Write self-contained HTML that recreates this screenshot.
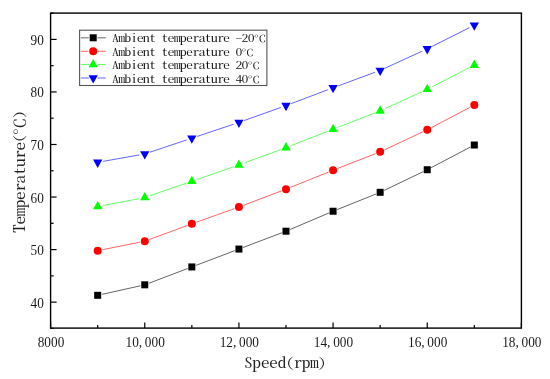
<!DOCTYPE html>
<html><head><meta charset="utf-8"><style>
html,body{margin:0;padding:0;background:#fff;width:550px;height:379px;overflow:hidden}
svg{display:block}
.tk{font-family:"Liberation Serif","Noto Serif CJK SC",serif;font-size:14px;fill:#1a1a1a;word-spacing:-0.6px}
.cj{font-family:"Noto Serif CJK SC",serif;font-feature-settings:"hwid";fill:#222}
.lg{font-family:"Noto Serif CJK SC",serif;font-feature-settings:"hwid";font-size:13.8px;letter-spacing:-0.725px;fill:#111}
</style></head><body>
<svg width="550" height="379" viewBox="0 0 550 379">
<rect x="0" y="0" width="550" height="379" fill="#fff"/>
<g>
<line x1="101.97" y1="294.36" x2="140.47" y2="285.77" stroke="#000000" stroke-width="0.85" stroke-opacity="0.72"/>
<line x1="148.87" y1="283.25" x2="187.73" y2="268.50" stroke="#000000" stroke-width="0.85" stroke-opacity="0.72"/>
<line x1="195.95" y1="265.38" x2="234.81" y2="250.64" stroke="#000000" stroke-width="0.85" stroke-opacity="0.72"/>
<line x1="243.03" y1="247.51" x2="281.89" y2="232.77" stroke="#000000" stroke-width="0.85" stroke-opacity="0.72"/>
<line x1="290.05" y1="229.49" x2="329.03" y2="212.96" stroke="#000000" stroke-width="0.85" stroke-opacity="0.72"/>
<line x1="337.16" y1="209.60" x2="376.08" y2="193.96" stroke="#000000" stroke-width="0.85" stroke-opacity="0.72"/>
<line x1="384.13" y1="190.42" x2="423.27" y2="171.63" stroke="#000000" stroke-width="0.85" stroke-opacity="0.72"/>
<line x1="431.14" y1="167.68" x2="470.42" y2="147.07" stroke="#000000" stroke-width="0.85" stroke-opacity="0.72"/>
<rect x="94.18" y="291.82" width="7.00" height="7.00" fill="#000000"/>
<rect x="141.26" y="281.31" width="7.00" height="7.00" fill="#000000"/>
<rect x="188.34" y="263.44" width="7.00" height="7.00" fill="#000000"/>
<rect x="235.42" y="245.57" width="7.00" height="7.00" fill="#000000"/>
<rect x="282.50" y="227.71" width="7.00" height="7.00" fill="#000000"/>
<rect x="329.58" y="207.74" width="7.00" height="7.00" fill="#000000"/>
<rect x="376.66" y="188.82" width="7.00" height="7.00" fill="#000000"/>
<rect x="423.74" y="166.22" width="7.00" height="7.00" fill="#000000"/>
<rect x="470.82" y="141.53" width="7.00" height="7.00" fill="#000000"/>
<line x1="102.48" y1="249.69" x2="139.96" y2="242.16" stroke="#ff0000" stroke-width="0.85" stroke-opacity="0.72"/>
<line x1="149.36" y1="239.50" x2="187.24" y2="225.54" stroke="#ff0000" stroke-width="0.85" stroke-opacity="0.72"/>
<line x1="196.45" y1="222.20" x2="234.31" y2="208.68" stroke="#ff0000" stroke-width="0.85" stroke-opacity="0.72"/>
<line x1="243.50" y1="205.30" x2="281.42" y2="190.91" stroke="#ff0000" stroke-width="0.85" stroke-opacity="0.72"/>
<line x1="290.55" y1="187.34" x2="328.53" y2="172.08" stroke="#ff0000" stroke-width="0.85" stroke-opacity="0.72"/>
<line x1="337.64" y1="168.47" x2="375.60" y2="153.64" stroke="#ff0000" stroke-width="0.85" stroke-opacity="0.72"/>
<line x1="384.60" y1="149.78" x2="422.80" y2="131.87" stroke="#ff0000" stroke-width="0.85" stroke-opacity="0.72"/>
<line x1="431.58" y1="127.51" x2="469.98" y2="107.36" stroke="#ff0000" stroke-width="0.85" stroke-opacity="0.72"/>
<circle cx="97.68" cy="250.65" r="4.00" fill="#ff0000"/>
<circle cx="144.76" cy="241.19" r="4.00" fill="#ff0000"/>
<circle cx="191.84" cy="223.85" r="4.00" fill="#ff0000"/>
<circle cx="238.92" cy="207.03" r="4.00" fill="#ff0000"/>
<circle cx="286.00" cy="189.17" r="4.00" fill="#ff0000"/>
<circle cx="333.08" cy="170.25" r="4.00" fill="#ff0000"/>
<circle cx="380.16" cy="151.86" r="4.00" fill="#ff0000"/>
<circle cx="427.24" cy="129.79" r="4.00" fill="#ff0000"/>
<circle cx="474.32" cy="105.09" r="4.00" fill="#ff0000"/>
<line x1="103.13" y1="205.47" x2="139.31" y2="198.61" stroke="#00ff00" stroke-width="0.85" stroke-opacity="0.72"/>
<line x1="150.00" y1="195.76" x2="186.60" y2="183.10" stroke="#00ff00" stroke-width="0.85" stroke-opacity="0.72"/>
<line x1="197.08" y1="179.47" x2="233.68" y2="166.81" stroke="#00ff00" stroke-width="0.85" stroke-opacity="0.72"/>
<line x1="244.13" y1="163.08" x2="280.79" y2="149.57" stroke="#00ff00" stroke-width="0.85" stroke-opacity="0.72"/>
<line x1="291.17" y1="145.63" x2="327.91" y2="131.28" stroke="#00ff00" stroke-width="0.85" stroke-opacity="0.72"/>
<line x1="338.25" y1="127.24" x2="374.99" y2="112.89" stroke="#00ff00" stroke-width="0.85" stroke-opacity="0.72"/>
<line x1="385.21" y1="108.56" x2="422.19" y2="91.63" stroke="#00ff00" stroke-width="0.85" stroke-opacity="0.72"/>
<line x1="432.18" y1="86.79" x2="469.38" y2="67.68" stroke="#00ff00" stroke-width="0.85" stroke-opacity="0.72"/>
<polygon points="93.03,209.28 102.33,209.28 97.68,200.98" fill="#00ff00"/>
<polygon points="140.11,200.34 149.41,200.34 144.76,192.04" fill="#00ff00"/>
<polygon points="187.19,184.05 196.49,184.05 191.84,175.75" fill="#00ff00"/>
<polygon points="234.27,167.76 243.57,167.76 238.92,159.46" fill="#00ff00"/>
<polygon points="281.35,150.42 290.65,150.42 286.00,142.12" fill="#00ff00"/>
<polygon points="328.43,132.03 337.73,132.03 333.08,123.73" fill="#00ff00"/>
<polygon points="375.51,113.63 384.81,113.63 380.16,105.33" fill="#00ff00"/>
<polygon points="422.59,92.09 431.89,92.09 427.24,83.79" fill="#00ff00"/>
<polygon points="469.67,67.92 478.97,67.92 474.32,59.62" fill="#00ff00"/>
<line x1="103.14" y1="161.39" x2="139.30" y2="154.93" stroke="#0000ff" stroke-width="0.85" stroke-opacity="0.72"/>
<line x1="150.02" y1="152.20" x2="186.58" y2="139.96" stroke="#0000ff" stroke-width="0.85" stroke-opacity="0.72"/>
<line x1="197.10" y1="136.43" x2="233.66" y2="124.19" stroke="#0000ff" stroke-width="0.85" stroke-opacity="0.72"/>
<line x1="244.15" y1="120.56" x2="280.77" y2="107.48" stroke="#0000ff" stroke-width="0.85" stroke-opacity="0.72"/>
<line x1="291.19" y1="103.64" x2="327.89" y2="89.72" stroke="#0000ff" stroke-width="0.85" stroke-opacity="0.72"/>
<line x1="338.29" y1="85.83" x2="374.95" y2="72.32" stroke="#0000ff" stroke-width="0.85" stroke-opacity="0.72"/>
<line x1="385.21" y1="68.09" x2="422.19" y2="51.17" stroke="#0000ff" stroke-width="0.85" stroke-opacity="0.72"/>
<line x1="432.20" y1="46.37" x2="469.36" y2="27.70" stroke="#0000ff" stroke-width="0.85" stroke-opacity="0.72"/>
<polygon points="93.03,159.60 102.33,159.60 97.68,167.90" fill="#0000ff"/>
<polygon points="140.11,151.19 149.41,151.19 144.76,159.49" fill="#0000ff"/>
<polygon points="187.19,135.43 196.49,135.43 191.84,143.73" fill="#0000ff"/>
<polygon points="234.27,119.66 243.57,119.66 238.92,127.96" fill="#0000ff"/>
<polygon points="281.35,102.85 290.65,102.85 286.00,111.15" fill="#0000ff"/>
<polygon points="328.43,84.98 337.73,84.98 333.08,93.28" fill="#0000ff"/>
<polygon points="375.51,67.64 384.81,67.64 380.16,75.94" fill="#0000ff"/>
<polygon points="422.59,46.09 431.89,46.09 427.24,54.39" fill="#0000ff"/>
<polygon points="469.67,22.44 478.97,22.44 474.32,30.74" fill="#0000ff"/>
</g>
<rect x="50.6" y="13.1" width="470.8" height="315" fill="none" stroke="#000" stroke-width="1.4"/>
<g stroke="#000" stroke-width="1.2">
<line x1="50.60" y1="328" x2="50.60" y2="322.5" />
<line x1="97.68" y1="328" x2="97.68" y2="325" />
<line x1="144.76" y1="328" x2="144.76" y2="322.5" />
<line x1="191.84" y1="328" x2="191.84" y2="325" />
<line x1="238.92" y1="328" x2="238.92" y2="322.5" />
<line x1="286.00" y1="328" x2="286.00" y2="325" />
<line x1="333.08" y1="328" x2="333.08" y2="322.5" />
<line x1="380.16" y1="328" x2="380.16" y2="325" />
<line x1="427.24" y1="328" x2="427.24" y2="322.5" />
<line x1="474.32" y1="328" x2="474.32" y2="325" />
<line x1="521.40" y1="328" x2="521.40" y2="322.5" />
<line x1="50.6" y1="328.42" x2="53.6" y2="328.42" />
<line x1="50.6" y1="302.15" x2="56.6" y2="302.15" />
<line x1="50.6" y1="275.88" x2="53.6" y2="275.88" />
<line x1="50.6" y1="249.60" x2="56.6" y2="249.60" />
<line x1="50.6" y1="223.32" x2="53.6" y2="223.32" />
<line x1="50.6" y1="197.05" x2="56.6" y2="197.05" />
<line x1="50.6" y1="170.78" x2="53.6" y2="170.78" />
<line x1="50.6" y1="144.50" x2="56.6" y2="144.50" />
<line x1="50.6" y1="118.22" x2="53.6" y2="118.22" />
<line x1="50.6" y1="91.95" x2="56.6" y2="91.95" />
<line x1="50.6" y1="65.67" x2="53.6" y2="65.67" />
<line x1="50.6" y1="39.40" x2="56.6" y2="39.40" />
<line x1="50.6" y1="13.12" x2="53.6" y2="13.12" />
</g>
<g class="tk">
<text transform="translate(43.9,307.60) scale(0.95,1)" text-anchor="end">40</text>
<text transform="translate(43.9,255.05) scale(0.95,1)" text-anchor="end">50</text>
<text transform="translate(43.9,202.50) scale(0.95,1)" text-anchor="end">60</text>
<text transform="translate(43.9,149.95) scale(0.95,1)" text-anchor="end">70</text>
<text transform="translate(43.9,97.40) scale(0.95,1)" text-anchor="end">80</text>
<text transform="translate(43.9,44.85) scale(0.95,1)" text-anchor="end">90</text>
<text transform="translate(51.00,346.9) scale(0.95,1)" text-anchor="middle">8000</text>
<text transform="translate(145.16,346.9) scale(0.95,1)" text-anchor="middle">10, 000</text>
<text transform="translate(239.32,346.9) scale(0.95,1)" text-anchor="middle">12, 000</text>
<text transform="translate(333.48,346.9) scale(0.95,1)" text-anchor="middle">14, 000</text>
<text transform="translate(427.64,346.9) scale(0.95,1)" text-anchor="middle">16, 000</text>
<text transform="translate(521.80,346.9) scale(0.95,1)" text-anchor="middle">18, 000</text>
</g>
<rect x="79.6" y="30.2" width="187.3" height="55.3" fill="#fff" stroke="#555" stroke-width="1.1"/>
<g>
<line x1="80.8" y1="37.8" x2="88.90" y2="37.8" stroke="#000000" stroke-width="0.85" stroke-opacity="0.72"/>
<line x1="97.50" y1="37.8" x2="105.8" y2="37.8" stroke="#000000" stroke-width="0.85" stroke-opacity="0.72"/>
<rect x="89.70" y="34.30" width="7.00" height="7.00" fill="#000000"/>
<text class="lg" transform="translate(112,42.30) scale(1,0.755)">Ambient temperature -20<tspan dx="-0.2" style="font-size:12.6px;letter-spacing:0">℃</tspan></text>
<line x1="80.8" y1="51.3" x2="88.40" y2="51.3" stroke="#ff0000" stroke-width="0.85" stroke-opacity="0.72"/>
<line x1="98.00" y1="51.3" x2="105.8" y2="51.3" stroke="#ff0000" stroke-width="0.85" stroke-opacity="0.72"/>
<circle cx="93.20" cy="51.30" r="4.00" fill="#ff0000"/>
<text class="lg" transform="translate(112,55.80) scale(1,0.755)">Ambient temperature 0<tspan dx="-0.2" style="font-size:12.6px;letter-spacing:0">℃</tspan></text>
<line x1="80.8" y1="64.5" x2="88.90" y2="64.5" stroke="#00ff00" stroke-width="0.85" stroke-opacity="0.72"/>
<line x1="97.50" y1="64.5" x2="105.8" y2="64.5" stroke="#00ff00" stroke-width="0.85" stroke-opacity="0.72"/>
<polygon points="88.55,67.27 97.85,67.27 93.20,58.97" fill="#00ff00"/>
<text class="lg" transform="translate(112,69.00) scale(1,0.755)">Ambient temperature 20<tspan dx="-0.2" style="font-size:12.6px;letter-spacing:0">℃</tspan></text>
<line x1="80.8" y1="78.0" x2="88.90" y2="78.0" stroke="#0000ff" stroke-width="0.85" stroke-opacity="0.72"/>
<line x1="97.50" y1="78.0" x2="105.8" y2="78.0" stroke="#0000ff" stroke-width="0.85" stroke-opacity="0.72"/>
<polygon points="88.55,75.23 97.85,75.23 93.20,83.53" fill="#0000ff"/>
<text class="lg" transform="translate(112,82.50) scale(1,0.755)">Ambient temperature 40<tspan dx="-0.2" style="font-size:12.6px;letter-spacing:0">℃</tspan></text>
</g>
<text class="cj" transform="translate(244.0,367.6) scale(1,0.84)" font-size="17.6" letter-spacing="-0.45">Speed<tspan font-size="15.2" dx="0.2" dy="-1">(</tspan><tspan dx="0.2" dy="1">rpm</tspan><tspan font-size="15.2" dx="0.2" dy="-1">)</tspan></text>
<text class="cj" transform="translate(24.8,233.0) rotate(-90) scale(1,0.85)" font-size="17.6" letter-spacing="-0.58">Temperature<tspan font-size="15.2" dx="0.2" dy="-1">(</tspan><tspan dx="0.2" dy="1">℃</tspan><tspan font-size="15.2" dx="0.2" dy="-1">)</tspan></text>
</svg>
</body></html>
